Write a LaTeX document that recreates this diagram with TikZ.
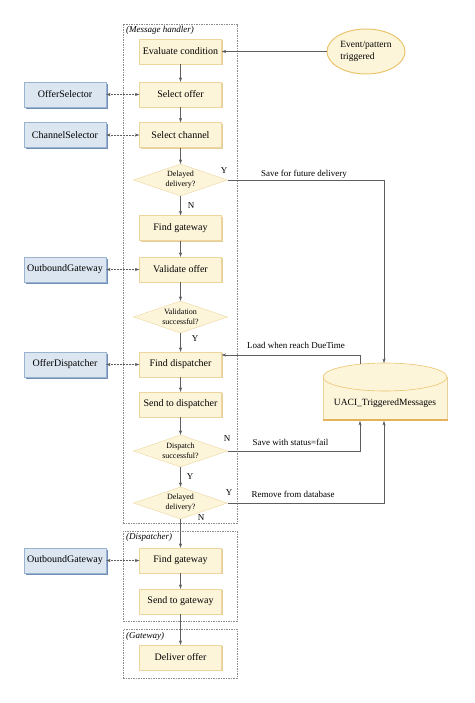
\documentclass[tikz,border=0pt]{standalone}
\usepackage{fontspec}
\setmainfont{Liberation Serif}
\usetikzlibrary{shapes.geometric,shadows,arrows.meta}
\definecolor{yfill}{HTML}{FDF5DA}
\definecolor{ydraw}{HTML}{EDD69E}
\definecolor{yshad}{HTML}{E6CF9A}
\definecolor{bfill}{HTML}{DCE6F1}
\definecolor{bdraw}{HTML}{9AB3CF}
\definecolor{bshad}{HTML}{6F8FB8}
\definecolor{lin}{HTML}{5E5E5E}
\definecolor{cont}{HTML}{8C8C8C}
\definecolor{edraw}{HTML}{EBC46E}
\definecolor{cbot}{HTML}{E3B25A}
\begin{document}
\begin{tikzpicture}[x=1pt,y=-1pt,
  ybox/.style={draw=ydraw, fill=yfill, minimum width=82pt, minimum height=25pt, inner sep=1pt,
    font=\fontsize{10}{12}\selectfont,
    general shadow={fill=yshad, shadow xshift=1.3pt, shadow yshift=-1.3pt}},
  bbox/.style={draw=bdraw, fill=bfill, minimum width=82pt, minimum height=25pt, inner sep=1pt,
    font=\fontsize{10}{12}\selectfont,
    general shadow={fill=bshad, shadow xshift=1.8pt, shadow yshift=-1.8pt}},
  dia/.style={shape=diamond, draw=ydraw, fill=yfill, aspect=2.94, inner sep=0pt, align=center,
    minimum width=94pt, minimum height=32pt,
    font=\fontsize{8}{10}\selectfont},
  container/.style={draw=cont, dash pattern=on 1.5pt off 1pt, line width=0.5pt},
  clabel/.style={anchor=west, font=\fontsize{9}{11}\selectfont\itshape, inner sep=0pt},
  arr/.style={draw=lin, line width=0.5pt, -{Stealth[length=4.5pt,width=3.2pt]}},
  biarr/.style={draw=lin, line width=0.5pt, densely dotted,
    {Stealth[length=4.5pt,width=3.2pt]}-{Stealth[length=4.5pt,width=3.2pt]}},
  lbl/.style={font=\fontsize{9}{11}\selectfont, inner sep=0pt},
  yn/.style={font=\fontsize{9}{11}\selectfont, inner sep=0pt}
]
\useasboundingbox (0,0) rectangle (474,703);

% containers
\node[container, minimum width=114pt, minimum height=499pt, inner sep=0pt] (mh) at (180,273.5) {};
\node[clabel] (mhl) at (126,30) {(Message handler)};
\node[container, minimum width=114pt, minimum height=90pt, inner sep=0pt] (dp) at (180,576) {};
\node[clabel] (dpl) at (126,537) {(Dispatcher)};
\node[container, minimum width=114pt, minimum height=49pt, inner sep=0pt] (gw) at (180,653.5) {};
\node[clabel] (gwl) at (126,636) {(Gateway)};

% main column
\node[ybox] (eval) at (180.5,51.5) {Evaluate condition};
\node[ybox] (offer) at (180.5,94.5) {Select offer};
\node[ybox] (chan) at (180.5,135) {Select channel};
\node[dia] (d1) at (180.5,180) {Delayed\\delivery?};
\node[ybox] (fgw) at (180.5,228) {Find gateway};
\node[ybox] (val) at (180.5,269.5) {Validate offer};
\node[dia] (d2) at (180.5,317) {Validation\\successful?};
\node[ybox] (fd) at (180.5,364.5) {Find dispatcher};
\node[ybox] (sd) at (180.5,404.5) {Send to dispatcher};
\node[dia] (d3) at (180.5,451) {Dispatch\\successful?};
\node[dia] (d4) at (180.5,503) {Delayed\\delivery?};
\node[ybox] (fgw2) at (180.5,560.5) {Find gateway};
\node[ybox] (sgw) at (180.5,601.5) {Send to gateway};
\node[ybox] (dlv) at (180.5,657.5) {Deliver offer};

% blue boxes
\node[bbox] (os) at (65,94.5) {OfferSelector};
\node[bbox] (cs) at (65,135) {ChannelSelector};
\node[bbox] (og) at (65,269.5) {OutboundGateway};
\node[bbox] (od) at (65,364.5) {OfferDispatcher};
\node[bbox] (og2) at (65,560.5) {OutboundGateway};

% event ellipse
\node[ellipse, draw=edraw, line width=1pt, fill=yfill, minimum width=78pt, minimum height=45pt,
  align=left, font=\fontsize{9.5}{12}\selectfont, inner sep=0pt] (ev) at (366,51.5) {Event/pattern\\triggered};

% database cylinder
\fill[yfill] (323,377) rectangle (447,420);
\draw[ydraw, line width=0.6pt] (323,377) -- (323,420);
\draw[yshad, line width=1.4pt] (447.5,377) -- (447.5,420);
\draw[cbot, line width=1.6pt] (322.5,420) -- (448,420);
\draw[edraw, fill=yfill, line width=0.6pt] (385,377) ellipse [x radius=62pt, y radius=14pt];
\node[font=\fontsize{9.5}{11}\selectfont, inner sep=0pt] (db) at (385,403) {UACI\_TriggeredMessages};
\coordinate (dbtA) at (384,363);
\coordinate (dbtB) at (360,364.2);
\coordinate (dbbA) at (360,421);
\coordinate (dbbB) at (384,421);

% main flow
\draw[arr] (ev.west) -- (ev.west -| eval.east);
\draw[arr] (eval) -- (offer);
\draw[arr] (offer) -- (chan);
\draw[arr] (chan) -- (d1);
\draw[arr] (d1) -- (fgw);
\draw[arr] (fgw) -- (val);
\draw[arr] (val) -- (d2);
\draw[arr] (d2) -- (fd);
\draw[arr] (fd) -- (sd);
\draw[arr] (sd) -- (d3);
\draw[arr] (d3) -- (d4);
\draw[arr] (d4) -- (fgw2);
\draw[arr] (fgw2) -- (sgw);
\draw[arr] (sgw) -- (dlv);

% dotted two-way links
\draw[biarr] (os.east) -- (offer.west);
\draw[biarr] (cs.east) -- (chan.west);
\draw[biarr] (og.east) -- (val.west);
\draw[biarr] (od.east) -- (fd.west);
\draw[biarr] (og2.east) -- (fgw2.west);

% database links
\draw[arr] (d1.east) -| (dbtA);
\draw[arr] (dbtB) |- ([yshift=9.5pt]fd.east);
\draw[arr] (d3.east) -| (dbbA);
\draw[arr] (d4.east) -| (dbbB);

% link labels
\node[lbl] (l1) at (304,174) {Save for future delivery};
\node[lbl] (l2) at (296,345) {Load when reach DueTime};
\node[lbl] (l3) at (290.5,442) {Save with status=fail};
\node[lbl] (l4) at (293,494) {Remove from database};

% Y/N labels
\node[yn] (y1) at (224,171) {Y};
\node[yn] (n1) at (191,206) {N};
\node[yn] (y2) at (195,339) {Y};
\node[yn] (n3) at (227,439) {N};
\node[yn] (y3) at (190,477) {Y};
\node[yn] (y4) at (229,493) {Y};
\node[yn] (n4) at (201,518) {N};
\end{tikzpicture}
\end{document}
